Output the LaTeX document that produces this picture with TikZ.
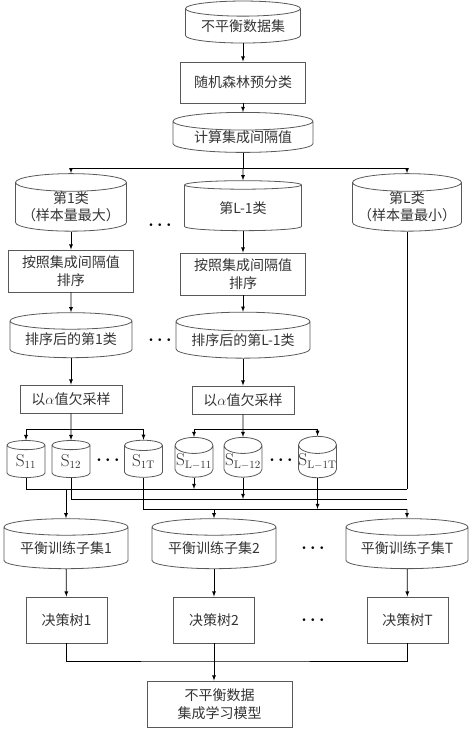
\documentclass[tikz,border=0pt]{standalone}
\usepackage[no-math]{fontspec}
\setmainfont{Noto Sans CJK SC}
\usetikzlibrary{
    arrows,
    shapes.geometric,
    calc,
    positioning
}

\tikzset{
    box/.style={draw=black!65, rectangle, text=black!80, align=center,
        inner sep=0pt, font=\fontsize{14}{17.5}\selectfont},
    db/.style={box, cylinder, shape border rotate=90, aspect=0.18},
    sdb/.style={db, aspect=0.45, minimum width=38pt, minimum height=37pt,
        font=\fontsize{16}{16}\selectfont},
    dots/.style={font=\fontsize{19}{19}\selectfont\boldmath}
}

\begin{document}
\begin{tikzpicture}[x=1pt, y=-1pt, >=latex, line width=0.8pt]
    \useasboundingbox (0,0) rectangle (474,732);

    \node[db, minimum width=115pt, minimum height=42pt] (data) at (243, 26) {不平衡数据集};
    \node[box, minimum width=125pt, minimum height=41pt] (rf) at (243, 82.5) {随机森林预分类};
    \node[db, minimum width=140pt, minimum height=40pt] (gap) at (243, 137) {计算集成间隔值};

    \node[db, minimum width=111pt, minimum height=50pt] (c1) at (71, 207) {第1类\\（样本量最大）};
    \node[db, minimum width=117pt, minimum height=50pt] (cL1) at (243, 208) {第L-1类};
    \node[db, minimum width=109pt, minimum height=50pt] (cL) at (407, 207) {第L类\\（样本量最小）};
    \node[dots] (dotsA) at (160, 225) {$\cdots$};

    \node[box, minimum width=125pt, minimum height=42pt] (sort1) at (71, 271) {按照集成间隔值\\排序};
    \node[box, minimum width=125pt, minimum height=42pt] (sortL1) at (243, 274) {按照集成间隔值\\排序};

    \node[db, minimum width=122pt, minimum height=45pt] (sorted1) at (71, 339.5) {排序后的第1类};
    \node[db, minimum width=134pt, minimum height=46pt] (sortedL1) at (243, 340) {排序后的第L-1类};
    \node[dots] (dotsB) at (160, 340) {$\cdots$};

    \node[box, minimum width=102pt, minimum height=28pt] (us1) at (71, 399) {以$\alpha$值欠采样};
    \node[box, minimum width=102pt, minimum height=28pt] (usL1) at (243, 400) {以$\alpha$值欠采样};

    \node[sdb] (S11) at (26, 461.5) {$\mathrm{S}_{11}$};
    \node[sdb] (S12) at (71, 461.5) {$\mathrm{S}_{12}$};
    \node[sdb] (S1T) at (143.5, 461.5) {$\mathrm{S}_{1\mathrm{T}}$};
    \node[sdb] (SL11) at (194, 461.5) {$\mathrm{S}_{\mathrm{L}-11}$};
    \node[sdb] (SL12) at (243, 461.5) {$\mathrm{S}_{\mathrm{L}-12}$};
    \node[sdb] (SL1T) at (317.5, 461.5) {$\mathrm{S}_{\mathrm{L}-1\mathrm{T}}$};
    \node[dots] (dotsC) at (108, 460) {$\cdots$};
    \node[dots] (dotsD) at (281, 460) {$\cdots$};

    \node[db, minimum width=124pt, minimum height=50pt] (sub1) at (66, 548) {平衡训练子集1};
    \node[db, minimum width=124pt, minimum height=50pt] (sub2) at (214, 548) {平衡训练子集2};
    \node[db, minimum width=122pt, minimum height=50pt] (subT) at (407, 548) {平衡训练子集T};
    \node[dots] (dotsE) at (313, 548) {$\cdots$};

    \node[box, minimum width=81pt, minimum height=46pt] (tree1) at (66.5, 620) {决策树1};
    \node[box, minimum width=81pt, minimum height=46pt] (tree2) at (214, 620) {决策树2};
    \node[box, minimum width=81pt, minimum height=46pt] (treeT) at (407.5, 620) {决策树T};
    \node[dots] (dotsF) at (313, 620) {$\cdots$};

    \node[box, minimum width=145pt, minimum height=46pt] (model) at (219.5, 704) {不平衡数据\\集成学习模型};

    \coordinate (split) at (243, 168);
    \coordinate (sb1) at (71, 429);
    \coordinate (sbL) at (243, 429);
    \coordinate (l1) at (407, 489);
    \coordinate (l2) at (407, 499);
    \coordinate (l3) at (407, 509);
    \coordinate (merge) at (214, 661);

    % upper chain
    \draw[->] (data) -- (rf);
    \draw[->] (rf) -- (gap);
    \draw (gap.south) -- (split);
    \draw[->] (split) -- (cL1.north);
    \draw[->] (split) -| (c1.north);
    \draw[->] (split) -| (cL.north);

    \draw[->] (c1) -- (sort1);
    \draw[->] (sort1) -- (sorted1);
    \draw[->] (sorted1) -- (us1);
    \draw[->] (cL1) -- (sortL1);
    \draw[->] (sortL1) -- (sortedL1);
    \draw[->] (sortedL1) -- (usL1);

    % undersampled subsets
    \draw[->] (us1.south) -- (S12.north);
    \draw[->] (sb1) -| (S11.north);
    \draw[->] (sb1) -| (S1T.north);
    \draw[->] (usL1.south) -- (SL12.north);
    \draw[->] (sbL) -| (SL11.north);
    \draw[->] (sbL) -| (SL1T.north);

    \draw (S11.south) |- (l1);
    \draw (S12.south) |- (l2);
    \draw (S1T.south) |- (l3);
    \draw[->] (SL11.south) -- (SL11.south |- l1);
    \draw[->] (SL12.south) -- (SL12.south |- l2);
    \draw[->] (SL1T.south) -- (SL1T.south |- l3);
    \draw (cL.south) -- (l1);
    \draw[->] (sub1.north |- l1) -- (sub1.north);
    \draw[->] (sub2.north |- l3) -- (sub2.north);
    \draw[->] (l3) -- (subT.north);

    % trees and model
    \draw[->] (sub1) -- (tree1);
    \draw[->] (sub2) -- (tree2);
    \draw[->] (subT) -- (treeT);
    \draw (tree1.south) |- (merge) -| (treeT.south);
    \draw[->] (tree2.south) -- (tree2.south |- model.north);
\end{tikzpicture}
\end{document}
